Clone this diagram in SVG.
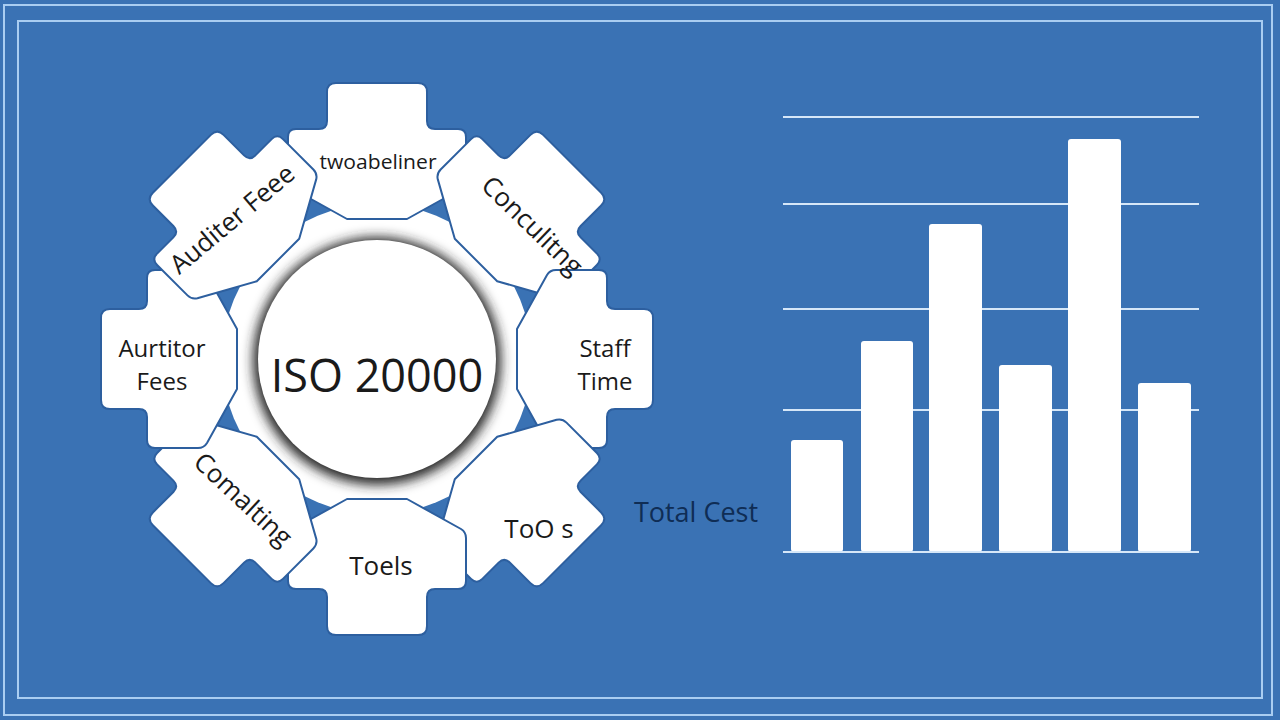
<svg xmlns="http://www.w3.org/2000/svg" xmlns:xlink="http://www.w3.org/1999/xlink" width="1280" height="720" viewBox="0 0 1280 720">
  <defs>
    <style>
      .frame { fill: none; stroke: #a9cdf1; stroke-width: 2; }
      .piece { fill: #ffffff; stroke: #2d5f9f; stroke-width: 2; stroke-linejoin: round; }
      .lbl { font-family: "Open Sans", "Liberation Sans", sans-serif; fill: #1a1a1a; text-anchor: middle; }
      .grid { stroke: #d6e7f8; stroke-width: 2; }
      .bar { fill: #ffffff; }
    </style>
    <path id="piece" d="M -30,-140 L -84,-170 Q -89,-173 -89,-179 L -89,-222 Q -89,-230 -81,-230 L -58,-230 Q -50,-230 -50,-238 L -50,-267 Q -50,-276 -41,-276 L 41,-276 Q 50,-276 50,-267 L 50,-238 Q 50,-230 58,-230 L 81,-230 Q 89,-230 89,-222 L 89,-179 Q 89,-173 84,-170 L 30,-140 Z"/>
    <filter id="sh" x="-30%" y="-30%" width="160%" height="160%">
      <feGaussianBlur stdDeviation="6"/>
    </filter>
  </defs>

  <rect x="0" y="0" width="1280" height="720" fill="#3a72b4"/>
  <rect class="frame" x="4" y="5" width="1268" height="710"/>
  <rect class="frame" x="18" y="21" width="1244" height="677"/>

  <g id="gear">
    <circle cx="377" cy="359" r="155" fill="#ffffff"/>
    <g id="piece-top"><use href="#piece" class="piece" transform="translate(377,359) rotate(0)"/></g>
    <g id="piece-topright"><use href="#piece" class="piece" transform="translate(377,359) rotate(45)"/></g>
    <g id="piece-right"><use href="#piece" class="piece" transform="translate(377,359) rotate(90)"/></g>
    <g id="piece-bottomright"><use href="#piece" class="piece" transform="translate(377,359) rotate(135)"/></g>
    <g id="piece-bottom"><use href="#piece" class="piece" transform="translate(377,359) rotate(180)"/></g>
    <g id="piece-bottomleft"><use href="#piece" class="piece" transform="translate(377,359) rotate(225)"/></g>
    <g id="piece-left"><use href="#piece" class="piece" transform="translate(377,359) rotate(270)"/></g>
    <g id="piece-topleft"><use href="#piece" class="piece" transform="translate(377,359) rotate(315)"/></g>
  </g>

  <g id="center">
    <circle cx="377" cy="361" r="124" fill="#262626" filter="url(#sh)"/>
    <circle cx="377" cy="359" r="119" fill="#ffffff"/>
    <text class="lbl" x="377" y="392" font-size="45">ISO 20000</text>
  </g>

  <g id="labels">
    <text class="lbl" x="378" y="169" font-size="20" textLength="117" lengthAdjust="spacingAndGlyphs">twoabeliner</text>
    <text class="lbl" x="0" y="0" font-size="26" transform="translate(238,226) rotate(-40)">Auditer Feee</text>
    <text class="lbl" x="0" y="0" font-size="26" transform="translate(526,232) rotate(44)">Conculitng</text>
    <text class="lbl" x="162" y="357" font-size="24">Aurtitor</text>
    <text class="lbl" x="162" y="390" font-size="24">Fees</text>
    <text class="lbl" x="605" y="357" font-size="24">Staff</text>
    <text class="lbl" x="605" y="390" font-size="24">Time</text>
    <text class="lbl" x="539" y="538" font-size="26">ToO s</text>
    <text class="lbl" x="381" y="575" font-size="26">Toels</text>
    <text class="lbl" x="0" y="0" font-size="26" transform="translate(237,506) rotate(43)">Comalting</text>
  </g>

  <g id="chart">
    <line class="grid" x1="783" y1="117" x2="1199" y2="117"/>
    <line class="grid" x1="783" y1="204" x2="1199" y2="204"/>
    <line class="grid" x1="783" y1="309" x2="1199" y2="309"/>
    <line class="grid" x1="783" y1="410" x2="1199" y2="410"/>
    <rect class="bar" x="791" y="440" width="52" height="112" rx="3"/>
    <rect class="bar" x="861" y="341" width="52" height="211" rx="3"/>
    <rect class="bar" x="929" y="224" width="53" height="328" rx="3"/>
    <rect class="bar" x="999" y="365" width="53" height="187" rx="3"/>
    <rect class="bar" x="1068" y="139" width="53" height="413" rx="3"/>
    <rect class="bar" x="1138" y="383" width="53" height="169" rx="3"/>
    <line class="grid" x1="783" y1="552" x2="1199" y2="552"/>
    <text x="696" y="522" font-family="Open Sans, Liberation Sans, sans-serif" font-size="27" fill="#0f2d55" text-anchor="middle">Total Cest</text>
  </g>
</svg>
